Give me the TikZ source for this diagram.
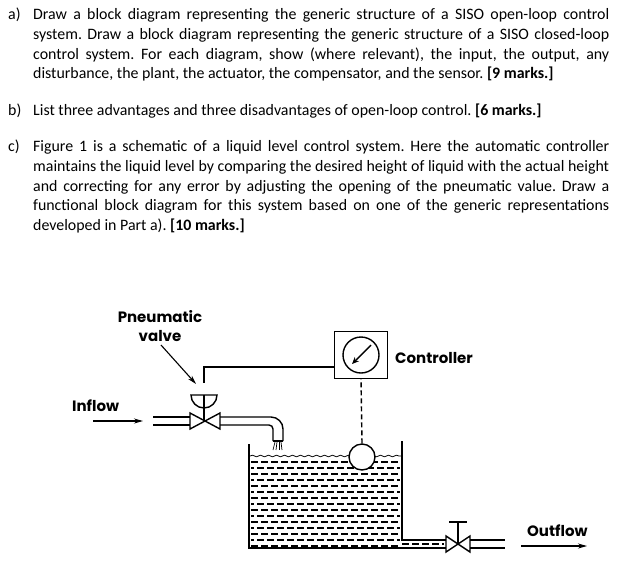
\documentclass[tikz,border=0pt]{standalone}
\usepackage{fontspec}
\setmainfont{Carlito}
\newfontfamily\figfont{Poppins}
\usetikzlibrary{arrows.meta,decorations.pathmorphing}
\tikzset{
  para/.style={anchor=north west,inner sep=0pt,text width=576pt,align=justify,font=\frenchspacing\fontsize{15.9}{19.9}\selectfont},
  lbl/.style={anchor=north west,inner sep=0pt,font=\fontsize{15.9}{19.9}\selectfont},
  fig/.style={font=\figfont\bfseries\fontsize{15}{18.5}\selectfont,inner sep=0pt},
  ln/.style={line width=1.4pt},
  arr/.style={line width=1.1pt,-{Stealth[length=9pt,width=5pt]}}}
\begin{document}
\begin{tikzpicture}[x=1pt,y=-1pt]
\useasboundingbox (0,0) rectangle (631,571);
\node[lbl] (la) at (8,8) {a)};
\node[para] (pa) at (33,8) {Draw a block diagram representing the generic structure of a SISO open-loop control\linebreak system. Draw a block diagram representing the generic structure of a SISO closed-loop\linebreak control system. For each diagram, show (where relevant), the input, the output, any\linebreak disturbance, the plant, the actuator, the compensator, and the sensor. \textbf{[9 marks.]}};
\node[lbl] (lb) at (8,104) {b)};
\node[para] (pb) at (33,104) {List three advantages and three disadvantages of open-loop control. \textbf{[6 marks.]}};
\node[lbl] (lc) at (8,140) {c)};
\node[para] (pc) at (33,140) {Figure 1 is a schematic of a liquid level control system. Here the automatic controller\linebreak maintains the liquid level by comparing the desired height of liquid with the actual height\linebreak and correcting for any error by adjusting the opening of the pneumatic value. Draw a\linebreak functional block diagram for this system based on one of the generic representations\linebreak developed in Part a). \textbf{[10 marks.]}};
\begin{scope}
\clip (251,460) rectangle (400,546);
\foreach \i in {0,...,14}{
  \pgfmathsetmacro\yy{462+6*\i}
  \pgfmathsetmacro\off{mod(\i,2)*4}
  \draw[line width=1.6pt,dash pattern=on 7pt off 3pt,dash phase=\off pt] (251,\yy) -- (400,\yy);
}
\end{scope}
\draw[line width=1.6pt,dash pattern=on 7pt off 3pt] (402,544) -- (444,544);
\draw[line width=0.8pt,decorate,decoration={snake,amplitude=0.8pt,segment length=8pt}] (250,456) -- (401,456);
\draw[ln] (249,444) -- (249,548) -- (446,548);
\draw[ln] (402,441) -- (402,540) -- (446,540);
\coordinate (ov) at (458,544);
\draw[ln] (446,536) -- (446,552) -- (470,536) -- (470,552) -- cycle;
\draw[ln] (ov) -- (458,522);
\draw[ln] (449,522) -- (467,522);
\draw[ln] (470,540) -- (505,540);
\draw[ln] (470,548) -- (505,548);
\node[circle,draw,ln,fill=white,minimum size=26pt,inner sep=0pt] (float) at (362,457) {};
\node[draw,ln,minimum width=53pt,minimum height=47pt,inner sep=0pt] (ctrl) at (361,355) {};
\draw[ln] (361,355) circle (18);
\draw[line width=1.4pt,-{Stealth[length=7pt,width=6pt]}] (371,345) -- (352,364);
\draw[ln,dash pattern=on 5pt off 3pt] (float.north) -- (ctrl.south);
\node[fig,anchor=west] (ctrltxt) at (395,358) {Controller};
\coordinate (c1) at (204,367);
\draw[ln] (ctrl.west |- c1) -- (c1) -- (204,383);
\draw[ln] (191,395) arc (180:0:13) -- cycle;
\draw[ln] (204,395) -- (204,421);
\draw[ln] (190,413) -- (190,429) -- (220,413) -- (220,429) -- cycle;
\draw[ln] (153,417) -- (190,417);
\draw[ln] (153,425) -- (190,425);
\draw[ln,rounded corners=12pt] (220,417) -- (283,417) -- (283,441);
\draw[ln,rounded corners=4pt] (220,425) -- (273,425) -- (273,441);
\draw[ln] (273,441) -- (283,441);
\foreach \a/\b in {275/273,277/276,279/279,281/282}{\draw[line width=0.7pt] (\a,442) -- (\b,450);}
\node[fig,anchor=west] (inflow) at (72,406) {Inflow};
\coordinate (ia) at (93,421);
\draw[arr] (ia) -- (143,421);
\node[fig,align=center] (pv) at (160,326) {Pneumatic\\valve};
\draw[arr] (161,345) -- (196,384);
\node[fig,anchor=west] (outflow) at (527,531) {Outflow};
\coordinate (oa) at (521,546);
\draw[arr] (oa) -- (587,546);
\end{tikzpicture}
\end{document}
